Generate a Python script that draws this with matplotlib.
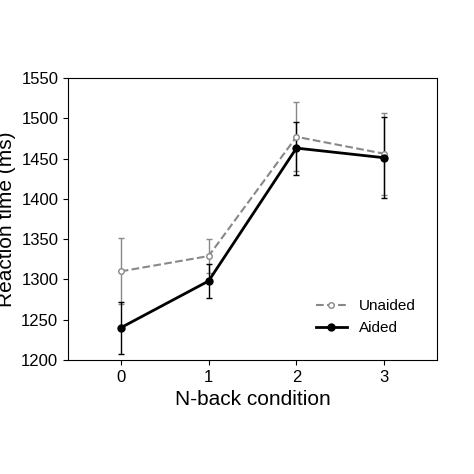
import matplotlib
matplotlib.use('Agg')
import matplotlib.pyplot as plt

conds = [0, 1, 2, 3]
unaided = [1310, 1329, 1477, 1456]
unaided_err = [41, 21, 43, 51]
aided = [1240, 1298, 1463, 1451]
aided_err = [32, 21, 33, 50]

plt.rcParams['font.family'] = ['Liberation Sans', 'DejaVu Sans']
fig = plt.figure(figsize=(4.74, 4.74), dpi=100)
ax = fig.add_axes([68/474, 1-360/474, (437-68)/474, (360-78)/474])
ax.errorbar(conds, unaided, yerr=unaided_err, color='#888888', ls='--', lw=1.5,
            marker='o', ms=4, mfc='white', mec='#888888', capsize=2, elinewidth=1)
ax.errorbar(conds, aided, yerr=aided_err, color='black', ls='-', lw=2,
            marker='o', ms=5, capsize=2, elinewidth=1)
ax.plot([], [], color='#888888', ls='--', lw=1.5, marker='o', ms=4, mfc='white', label='Unaided')
ax.plot([], [], color='black', lw=2, marker='o', ms=5, label='Aided')
ax.set_xlim(-0.6, 3.6)
ax.set_ylim(1200, 1550)
ax.set_xticks(conds)
ax.set_yticks(range(1200, 1551, 50))
ax.tick_params(labelsize=12)
ax.set_xlabel('N-back condition', fontsize=15)
ax.set_ylabel('Reaction time (ms)', fontsize=15)
ax.legend(loc='lower right', frameon=False, fontsize=11, bbox_to_anchor=(0.98, 0.04))
fig.savefig('out.png', dpi=100)
